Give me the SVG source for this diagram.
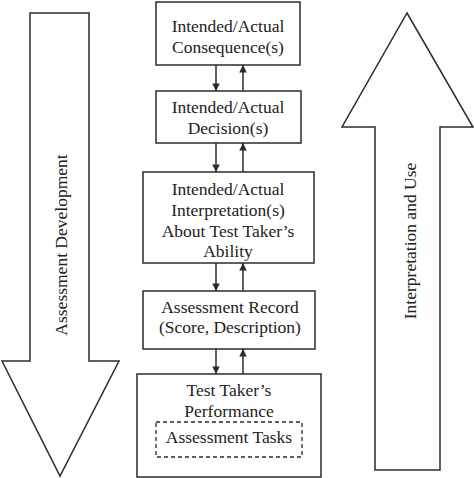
<svg xmlns="http://www.w3.org/2000/svg" width="474" height="478" viewBox="0 0 474 478">
<style>
.b{fill:#fff;stroke:#2b2b2b;stroke-width:1.5}
.t{font-family:"Liberation Serif","Times New Roman","DejaVu Serif",serif;font-size:17.5px;fill:#222;text-anchor:middle}
.c{stroke:#2b2b2b;stroke-width:1.5;fill:none}
</style>
<defs>
<marker id="ah" viewBox="0 0 10 10" refX="10" refY="5" markerWidth="5.5" markerHeight="5" markerUnits="strokeWidth" orient="auto">
<path d="M0,0 L10,5 L0,10 Z" fill="#2b2b2b"/>
</marker>
</defs>
<rect width="474" height="478" fill="#fff"/>
<g id="dev-arrow">
<polygon class="b" points="30,13 89,13 89,361 119,361 60,476 2,361 30,361"/>
<text class="t" transform="translate(67,245) rotate(-90)">Assessment Development</text>
</g>
<g id="use-arrow">
<polygon class="b" points="407,13 473,127 440,127 440,470 375,470 375,127 342,127"/>
<text class="t" transform="translate(416,241) rotate(-90)">Interpretation and Use</text>
</g>
<g id="consequences">
<rect class="b" x="156" y="2" width="144" height="63"/>
<text class="t" x="228" y="32">Intended/Actual</text>
<text class="t" x="228" y="53">Consequence(s)</text>
</g>
<g id="decisions">
<rect class="b" x="156" y="91" width="145" height="52"/>
<text class="t" x="228" y="113">Intended/Actual</text>
<text class="t" x="228" y="134">Decision(s)</text>
</g>
<g id="interpretations">
<rect class="b" x="143" y="172" width="171" height="91"/>
<text class="t" x="228" y="195">Intended/Actual</text>
<text class="t" x="228" y="216">Interpretation(s)</text>
<text class="t" x="228" y="237">About Test Taker’s</text>
<text class="t" x="228" y="257">Ability</text>
</g>
<g id="record">
<rect class="b" x="143" y="291" width="172" height="58"/>
<text class="t" x="230" y="313">Assessment Record</text>
<text class="t" x="230" y="333">(Score, Description)</text>
</g>
<g id="performance">
<rect class="b" x="137" y="374" width="184" height="103"/>
<text class="t" x="229" y="396">Test Taker’s</text>
<text class="t" x="229" y="417">Performance</text>
<rect x="156" y="422" width="146" height="35" fill="none" stroke="#2b2b2b" stroke-width="1.3" stroke-dasharray="4,3"/>
<text class="t" x="229" y="443">Assessment Tasks</text>
</g>
<g id="connectors">
<line class="c" x1="216" y1="65" x2="216" y2="91" marker-end="url(#ah)"/>
<line class="c" x1="243" y1="91" x2="243" y2="65" marker-end="url(#ah)"/>
<line class="c" x1="216" y1="143" x2="216" y2="172" marker-end="url(#ah)"/>
<line class="c" x1="243" y1="172" x2="243" y2="143" marker-end="url(#ah)"/>
<line class="c" x1="216" y1="263" x2="216" y2="291" marker-end="url(#ah)"/>
<line class="c" x1="243" y1="291" x2="243" y2="263" marker-end="url(#ah)"/>
<line class="c" x1="216" y1="349" x2="216" y2="374" marker-end="url(#ah)"/>
<line class="c" x1="243" y1="374" x2="243" y2="349" marker-end="url(#ah)"/>
</g>
</svg>
